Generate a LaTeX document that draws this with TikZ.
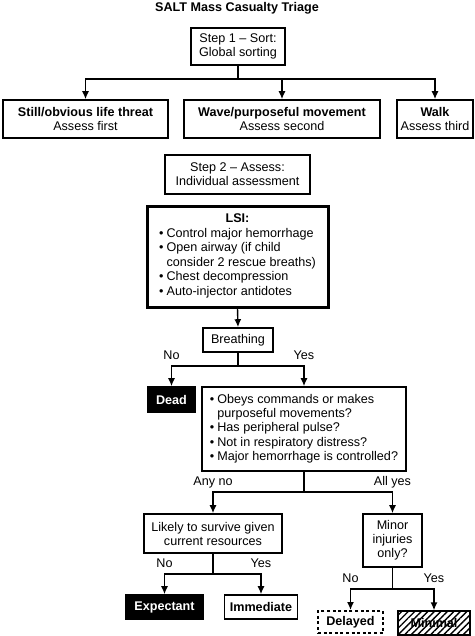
\documentclass[tikz,border=0pt]{standalone}
\usepackage{fontspec}
\setmainfont{Liberation Sans}
\usetikzlibrary{arrows.meta,patterns.meta}
\tikzset{
  box/.style={draw, line width=1.6pt, align=center, inner sep=2pt, font=\fontsize{12.6}{14}\selectfont},
  blackbox/.style={box, fill=black, text=white, font=\fontsize{12.6}{14}\selectfont\bfseries},
  dashbox/.style={box, line width=2pt, dash pattern=on 3pt off 2.6pt, font=\fontsize{12.6}{14}\selectfont\bfseries},
  hatchbox/.style={box, line width=2.4pt, pattern={Lines[angle=45,distance=4.6pt,line width=1.3pt]}, font=\fontsize{12.6}{14}\selectfont\bfseries},
  lbl/.style={anchor=base, yshift=6.5pt, inner sep=0pt, font=\fontsize{12.6}{14}\selectfont}
}

\begin{document}
\begin{tikzpicture}[x=1pt, y=-1pt, line width=1.4pt, >={Latex[length=8pt,width=7pt]}]
\useasboundingbox (0,0) rectangle (474,636);

\node[anchor=base, font=\fontsize{12.6}{14}\selectfont\bfseries] (title) at (237,12) {SALT Mass Casualty Triage};

\node[box, minimum width=94pt, minimum height=37pt] (global sorting) at (238,46.5) {Step 1 – Sort:\\ Global sorting};

\node[box, minimum width=165pt, minimum height=38pt] (life threat) at (85.5,119) {\textbf{Still/obvious life threat}\\ Assess first};
\node[box, minimum width=196pt, minimum height=38pt] (purposeful movement) at (282,119) {\textbf{Wave/purposeful movement}\\ Assess second};
\node[box, minimum width=76pt, minimum height=38pt] (walk) at (435,119) {\textbf{Walk}\\ Assess third};

\coordinate (sort split) at (238,79);
\draw (global sorting.south) -- (sort split);
\draw[->] (sort split) -| (life threat.north);
\draw[->] (sort split) -| (purposeful movement.north);
\draw[->] (sort split) -| (walk.north);

\node[box, minimum width=145pt, minimum height=39pt] (individual assessment) at (237.5,174.5) {Step 2 – Assess:\\ Individual assessment};

\node[box, line width=3pt, minimum width=181pt, minimum height=100pt] (lsi) at (237.5,257) {\textbf{LSI:}\\[3pt]
\renewcommand{\arraystretch}{1.04}%
\begin{tabular}{@{}l@{\hspace{3pt}}l@{}}
• & Control major hemorrhage \\
• & Open airway (if child \\
  & consider 2 rescue breaths) \\
• & Chest decompression \\
• & Auto-injector antidotes
\end{tabular}};

\node[box, minimum width=70pt, minimum height=24pt] (breathing) at (238,340) {Breathing};
\draw[->] (lsi.south) -- (breathing.north);

\node[blackbox, minimum width=47pt, minimum height=25pt] (dead) at (171.5,399.5) {Dead};

\node[box, minimum width=204pt, minimum height=84pt] (vital signs) at (304,429) {\renewcommand{\arraystretch}{1.03}%
\begin{tabular}{@{}l@{\hspace{3pt}}l@{}}
• & Obeys commands or makes \\
  & purposeful movements? \\
• & Has peripheral pulse? \\
• & Not in respiratory distress? \\
• & Major hemorrhage is controlled?
\end{tabular}};

\coordinate (breathing split) at (238,366);
\draw (breathing.south) -- (breathing split);
\draw[->] (breathing split) -| node[lbl, pos=0.5] {No} (dead.north);
\draw[->] (breathing split) -| node[lbl, pos=0.5] {Yes} (vital signs.north);

\node[box, minimum width=138pt, minimum height=39pt] (survive) at (213,533.5) {Likely to survive given\\ current resources};
\node[box, minimum width=59pt, minimum height=53pt] (minor injuries) at (392.5,540.5) {Minor\\ injuries\\ only?};

\coordinate (vital split) at (304,492);
\draw (vital signs.south) -- (vital split);
\draw[->] (vital split) -| node[lbl, pos=0.5] {Any no} (survive.north);
\draw[->] (vital split) -| node[lbl, pos=0.5] {All yes} (minor injuries.north);

\node[blackbox, minimum width=77pt, minimum height=24pt] (expectant) at (164.5,607) {Expectant};
\node[box, minimum width=73pt, minimum height=24pt, font=\fontsize{12.6}{14}\selectfont\bfseries] (immediate) at (261,607) {Immediate};

\coordinate (survive split) at (213,574);
\draw (survive.south) -- (survive split);
\draw[->] (survive split) -| node[lbl, pos=0.5] {No} (expectant.north);
\draw[->] (survive split) -| node[lbl, pos=0.5] {Yes} (immediate.north);

\node[dashbox, minimum width=65pt, minimum height=22pt] (delayed) at (350.5,622) {Delayed};
\node[hatchbox, minimum width=72pt, minimum height=24pt] (minimal) at (434,623) {Minimal};

\coordinate (minor split) at (392.5,589);
\draw (minor injuries.south) -- (minor split);
\draw[->] (minor split) -| node[lbl, pos=0.5] {No} (delayed.north);
\draw[->] (minor split) -| node[lbl, pos=0.5] {Yes} (minimal.north);
\end{tikzpicture}
\end{document}
